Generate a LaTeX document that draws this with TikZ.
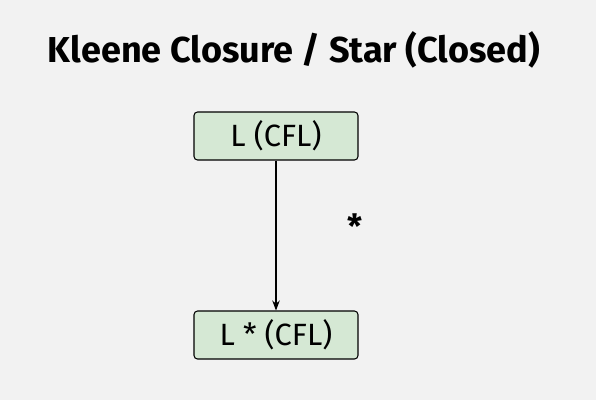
\documentclass[tikz,border=0pt]{standalone}
\usepackage{fontspec}
\setmainfont{Fira Sans}
\usetikzlibrary{positioning,arrows.meta}
\definecolor{boxgreen}{HTML}{D5E8D4}
\definecolor{bggray}{HTML}{F2F2F2}
\begin{document}
\begin{tikzpicture}[x=0.02cm, y=-0.02cm, node distance=3cm, semithick,
        main/.style = {draw, rounded corners=2pt, fill=boxgreen, minimum width=3.28cm, minimum height=0.96cm, font=\fontsize{17.5}{20}\selectfont}]
        \fill[bggray] (0,0) rectangle (596,400);
        \node[font=\bfseries\fontsize{20.5}{24}\selectfont, anchor=base] (title) at (294,62) {Kleene Closure / Star (Closed)};
        \node[main] (l) at (276,136) {L (CFL)};
        \node[main] (lstar) [below=of l] {L * (CFL)};
        \draw[-{Stealth}] (l) to (lstar);
        \node[font=\bfseries\fontsize{19}{21}\selectfont] (star) at (355,226) {*};
    \end{tikzpicture}
\end{document}
